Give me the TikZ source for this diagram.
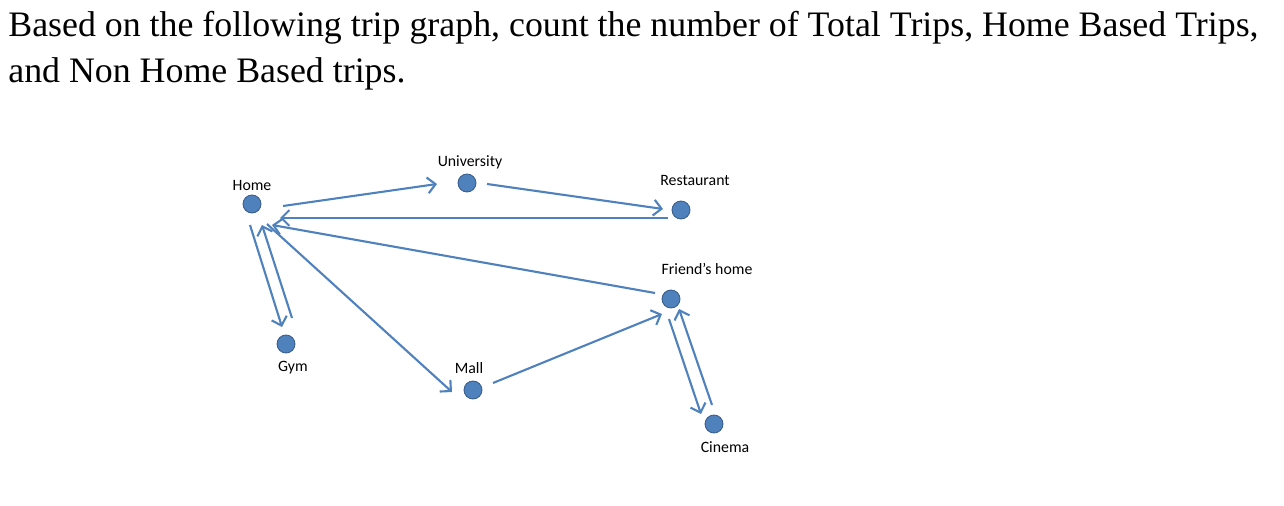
\documentclass[tikz,border=0pt]{standalone}
\usepackage{fontspec}
\setmainfont{Liberation Serif}
\newfontfamily\labelfont{Carlito}
\usepackage{xcolor}
\usetikzlibrary{arrows.meta, calc}
\definecolor{tripblue}{HTML}{4F81BD}
\definecolor{tripdark}{HTML}{385D8A}

\begin{document}
\begin{tikzpicture}[x=0.02cm, y=-0.02cm]
    \tikzstyle{place}=[circle, fill=tripblue, draw=tripdark, line width=0.5pt, minimum size=0.36cm, inner sep=0pt]
    \tikzstyle{place label}=[font=\labelfont\fontsize{9}{10}\selectfont, inner sep=0pt]
    \tikzstyle{question}=[anchor=base west, inner sep=0pt, font=\fontsize{20.4}{26}\selectfont]
    \tikzstyle{trip}=[draw=tripblue, line width=1.2pt, -{Straight Barb[length=4.5pt, width=9pt, line width=1.2pt]}]

    \useasboundingbox (0,0) rectangle (1284,506);

    % Question text
    \node[question] (question-1) at (8,37) {Based on the following trip graph, count the number of Total Trips, Home Based Trips,};
    \node[question] (question-2) at (8,83) {and Non Home Based trips.};

    % Draw the places with their labels
    \foreach \name/\x/\y/\lx/\ly/\txt in {home/252/204/0/-19/Home,
                                          univ/467/183/3/-21/University,
                                          rest/681/210/14/-30/Restaurant,
                                          friend/671/299/36/-30/Friend’s home,
                                          gym/286/344/7/24/Gym,
                                          mall/473/390/-4/-22/Mall,
                                          cinema/714/424/11/23/Cinema}
    {
        \node[place] (\name) at (\x,\y) {};
        \node[place label] (\name-lbl) at ($(\name)+(\lx,\ly)$) {\txt};
    }

    % Draw the trips
    \foreach \a/\ax/\ay/\b/\bx/\by in {home/31/2/univ/-30/1,
                                       univ/20/1/rest/-18/-1,
                                       rest/-13/8/home/28/14,
                                       friend/-16/-6/home/20/21,
                                       home/-2/21/gym/-4/-17,
                                       gym/6/-26/home/10/21,
                                       home/15/20/mall/-21/2,
                                       mall/20/-7/friend/-9/15,
                                       friend/-2/20/cinema/-13/-10,
                                       cinema/-2/-19/friend/8/10}
        \draw[trip] ($(\a)+(\ax,\ay)$) -- ($(\b)+(\bx,\by)$);
\end{tikzpicture}
\end{document}
